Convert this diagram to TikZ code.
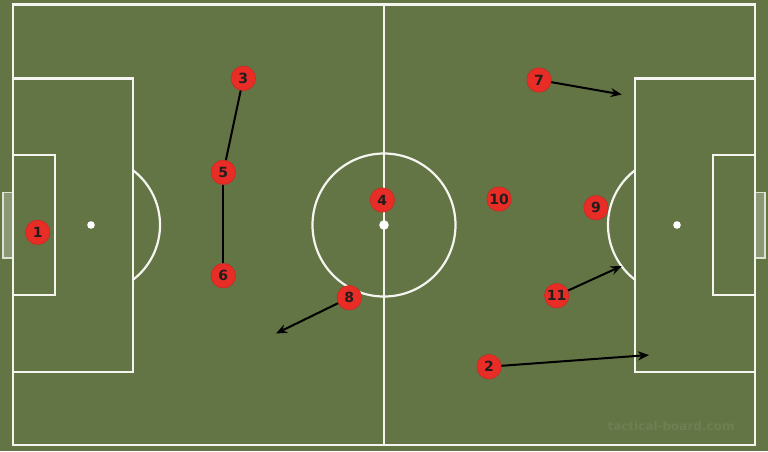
\documentclass[tikz,border=0pt]{standalone}
\usepackage{fontspec}
\setmainfont{DejaVu Sans}
\usetikzlibrary{arrows.meta}
\definecolor{pitch}{RGB}{99,116,69}
\definecolor{plred}{RGB}{232,44,38}
\definecolor{numcol}{RGB}{34,30,30}
\definecolor{goalfill}{RGB}{138,152,118}
\definecolor{wm}{RGB}{110,127,82}
\tikzset{
  fline/.style={draw={rgb,255:red,245;green,245;blue,240}, line width=2.2pt},
  player/.style={circle, fill=plred, draw={rgb,255:red,205;green,38;blue,32}, line width=0.5pt,
     minimum size=24.5pt, inner sep=0pt, font=\fontsize{14}{14}\selectfont\bfseries, text=numcol},
  mv/.style={draw=black, line width=2pt},
  mvarr/.style={mv, -{Stealth[length=11pt,width=9pt]}},
  goalbox/.style={fill=goalfill, draw={rgb,255:red,220;green,225;blue,210}, line width=1.2pt}
}
\begin{document}
\begin{tikzpicture}[x=1pt,y=-1pt]
\useasboundingbox (0,0) rectangle (768,451);
\fill[pitch] (0,0) rectangle (768,451);
% goals
\path[goalbox] (3,192.5) rectangle (13,258);
\path[goalbox] (755,192.5) rectangle (765,258);
% field
\draw[fline] (13,4.5) rectangle (755,445);
\draw[fline] (384,4.5) -- (384,445);
\draw[fline] (384,225) circle (71.5);
\fill[white] (384,225) circle (4.8);
% left
\draw[fline] (13,78.5) rectangle (133,372);
\draw[fline] (13,155) rectangle (55,295);
\fill[white] (91,225) circle (3.8);
\begin{scope}
\clip (133,0) rectangle (250,451);
\draw[fline] (91,225) circle (69);
\end{scope}
% right
\draw[fline] (635,78.5) rectangle (755,372);
\draw[fline] (713,155) rectangle (755,295);
\fill[white] (677,225) circle (3.8);
\begin{scope}
\clip (520,0) rectangle (635,451);
\draw[fline] (677,225) circle (69);
\end{scope}
% watermark
\node[font=\fontsize{12}{12}\selectfont\bfseries, text=wm] (wmk) at (671,426) {tactical-board.com};
% players
\node[player] (p1) at (37.7,232.3) {1};
\node[player] (p2) at (489,366.7) {2};
\node[player] (p3) at (243.3,78.3) {3};
\node[player] (p4) at (382.3,200) {4};
\node[player] (p5) at (223.3,172.3) {5};
\node[player] (p6) at (223.3,275.7) {6};
\node[player] (p7) at (539,80) {7};
\node[player] (p8) at (349.3,297.7) {8};
\node[player] (p9) at (596,207.7) {9};
\node[player] (p10) at (499,199) {10};
\node[player] (p11) at (556.7,295.7) {11};
% targets
\coordinate (t2) at (649,355);
\coordinate (t7) at (621.7,94.5);
\coordinate (t8) at (276,333.5);
\coordinate (t11) at (621.7,266);
% movements
\draw[mv] (p3) -- (p5);
\draw[mv] (p5) -- (p6);
\draw[mvarr] (p2) -- (t2);
\draw[mvarr] (p7) -- (t7);
\draw[mvarr] (p8) -- (t8);
\draw[mvarr] (p11) -- (t11);
\end{tikzpicture}
\end{document}
